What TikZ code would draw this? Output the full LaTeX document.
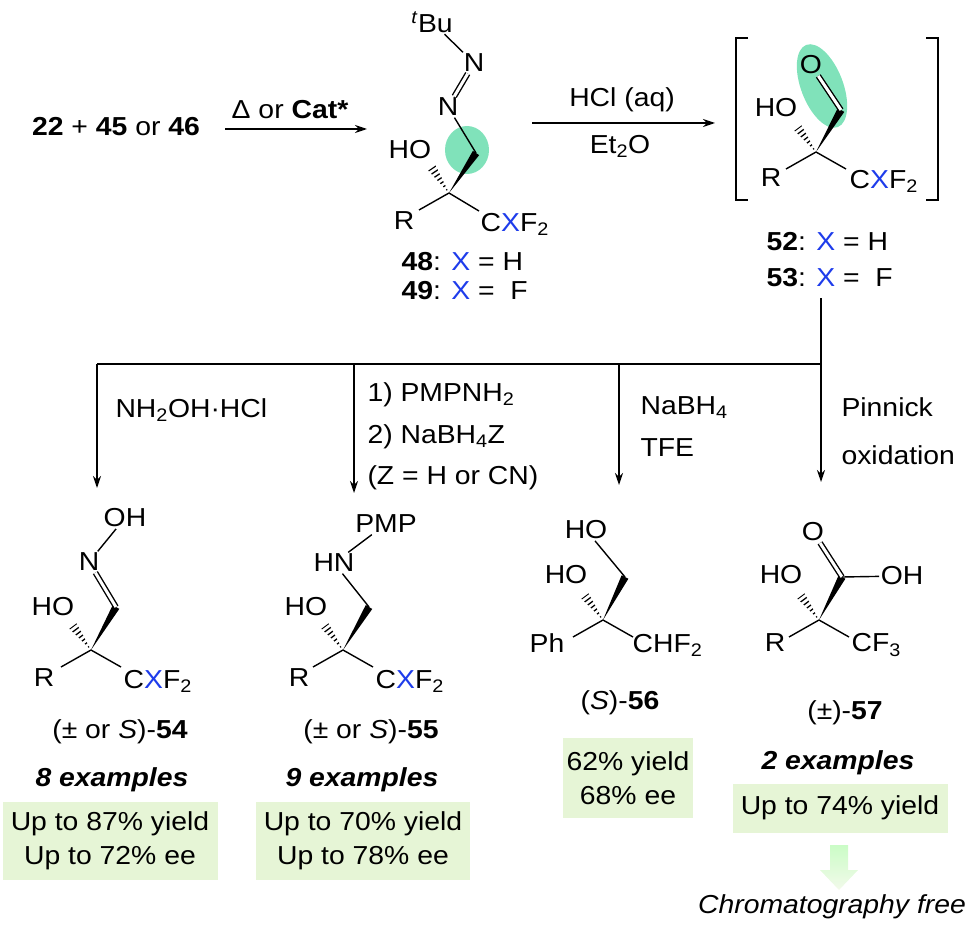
\documentclass[tikz,border=0pt]{standalone}
\usepackage{fontspec}
\setmainfont[FakeStretch=1.09]{Liberation Sans}
\usetikzlibrary{calc,arrows.meta}
\definecolor{xblue}{RGB}{30,60,235}
\definecolor{mint}{RGB}{128,226,186}
\definecolor{boxg}{RGB}{230,245,214}
\newcommand\hashb[2]{\begin{scope}\clip (#1) -- ($(#2)!4.5pt!90:(#1)$) -- ($(#2)!4.5pt!-90:(#1)$) -- cycle;
 \draw[line width=12pt,dash pattern=on 1.3pt off 3pt,dash phase=1pt] (#1) -- (#2);\end{scope}}
\newcommand\wedgeb[2]{\fill (#1) -- ($(#2)!3.8pt!90:(#1)$) -- ($(#2)!3.8pt!-90:(#1)$) -- cycle;}
\newcommand\X{\textcolor{xblue}{X}}
\newcommand\sbs[1]{\textsubscript{#1}}
\begin{document}
\begin{tikzpicture}[x=1pt,y=-1pt,font=\fontsize{26}{31}\selectfont,
  bd/.style={line width=1.4pt},
  ar/.style={line width=1.4pt,-{Stealth[length=12pt,width=8pt]}},
  lb/.style={inner sep=1.5pt},
  gbox/.style={fill=boxg,align=center,inner sep=4pt}]
\useasboundingbox (0,0) rectangle (972,928);
% top left
\node (start) at (116,127) {\textbf{22} + \textbf{45} or \textbf{46}};
\coordinate (a1s) at (225,129); \coordinate (a1e) at (367,129);
\draw[ar] (a1s) -- (a1e);
\node (cond1) at (290,110) {Δ or \textbf{Cat*}};
% molecule 48
\fill[mint] (467,150) ellipse (22 and 24);
\coordinate (C48) at (449,193);
\coordinate (T48) at (476,153);
\coordinate (H48) at (432,168);
\coordinate (R48e) at (419,210);
\coordinate (X48e) at (479,211);
\node[lb] (HO48) at (410,150) {HO};
\node[lb] (N1) at (448,107) {N};
\node[lb] (N2) at (474,63) {N};
\node[lb] (tBu) at (432,22) {\textsuperscript{\textit{t}}Bu};
\node[lb] (R48) at (404,221) {R};
\node[lb,anchor=west] (CX48) at (479,224) {C\X F\sbs{2}};
\hashb{C48}{H48}
\wedgeb{C48}{T48}
\draw[bd] (T48) -- (N1);
\draw[bd,double distance=3pt] (N1) -- (N2);
\draw[bd] (N2) -- (tBu);
\draw[bd] (C48) -- (R48e);
\draw[bd] (C48) -- (X48e);
\node[anchor=west] (l48) at (398,262) {\textbf{48}: \X{} = H};
\node[anchor=west] (l49) at (398,291) {\textbf{49}: \X{} = \ F};
% arrow 2
\coordinate (a2s) at (532,123); \coordinate (a2e) at (715,123);
\draw[ar] (a2s) -- (a2e);
\node (cond2a) at (622,100) {HCl (aq)};
\node (cond2b) at (620,146) {Et\sbs{2}O};
% molecule 52
\fill[mint,rotate around={21:(822,86)}] (822,86) ellipse (21 and 44);
\coordinate (C52) at (816,152);
\coordinate (T52) at (841,110);
\coordinate (H52) at (798,128);
\coordinate (R52e) at (786,169);
\coordinate (X52e) at (846,169);
\node[lb] (HO52) at (776,108) {HO};
\node[lb] (O52) at (811,65) {O};
\node[lb] (R52) at (771,178) {R};
\node[lb,anchor=west] (CX52) at (848,181) {C\X F\sbs{2}};
\hashb{C52}{H52}
\wedgeb{C52}{T52}
\draw[bd,double distance=3pt] (T52) -- (O52);
\draw[bd] (C52) -- (R52e);
\draw[bd] (C52) -- (X52e);
\draw[bd] (748,38) -- (736,38) -- (736,200) -- (748,200);
\draw[bd] (926,38) -- (938,38) -- (938,200) -- (926,200);
\node[anchor=west] (l52) at (763,242) {\textbf{52}: \X{} = H};
\node[anchor=west] (l53) at (763,278) {\textbf{53}: \X{} = \ F};
% branching
\coordinate (bt) at (821,298); \coordinate (bj) at (821,364);
\coordinate (b1) at (97,364); \coordinate (b2) at (354,364); \coordinate (b3) at (619,364);
\coordinate (e1) at (97,488); \coordinate (e2) at (354,493); \coordinate (e3) at (619,485); \coordinate (e4) at (821,482);
\draw[bd] (bt) -- (bj) -- (b1);
\draw[ar] (b1) -- (e1); \draw[ar] (b2) -- (e2); \draw[ar] (b3) -- (e3); \draw[ar] (bj) -- (e4);
\node[anchor=west] (c1) at (112,410) {NH\sbs{2}OH·HCl};
\node[anchor=west] (c2a) at (364,395) {1) PMPNH\sbs{2}};
\node[anchor=west] (c2b) at (364,437) {2) NaBH\sbs{4}Z};
\node[anchor=west] (c2c) at (364,478) {(Z = H or CN)};
\node[anchor=west] (c3a) at (637,408) {NaBH\sbs{4}};
\node[anchor=west] (c3b) at (637,448) {TFE};
\node[anchor=west] (c4a) at (838,407) {Pinnick};
\node[anchor=west] (c4b) at (838,455) {oxidation};
% 54
\coordinate (C54) at (91,650); \coordinate (T54) at (116,607); \coordinate (H54) at (73,626);
\coordinate (R54e) at (61,667); \coordinate (X54e) at (121,667);
\node[lb] (HO54) at (53,607) {HO};
\node[lb] (N54) at (89,562) {N};
\node[lb] (OH54) at (125,518) {OH};
\node[lb] (R54) at (44,678) {R};
\node[lb,anchor=west] (CX54) at (122,681) {C\X F\sbs{2}};
\hashb{C54}{H54}\wedgeb{C54}{T54}
\draw[bd,double distance=3pt] (T54) -- (N54);
\draw[bd] (N54) -- (OH54);
\draw[bd] (C54) -- (R54e); \draw[bd] (C54) -- (X54e);
\node (l54) at (120,732) {(± or \textit{S})-\textbf{54}};
\node (x54) at (112,780) {\textbf{\textit{8 examples}}};
\node[gbox,minimum width=215pt,minimum height=78pt] (y54) at (110,841) {Up to 87\% yield\\[3pt]Up to 72\% ee};
% 55
\coordinate (C55) at (343,650); \coordinate (T55) at (369,607); \coordinate (H55) at (325,626);
\coordinate (R55e) at (313,667); \coordinate (X55e) at (373,667);
\node[lb] (HO55) at (306,607) {HO};
\node[lb] (HN55) at (334,563) {HN};
\node[lb] (PMP55) at (386,524) {PMP};
\node[lb] (R55) at (299,678) {R};
\node[lb,anchor=west] (CX55) at (374,681) {C\X F\sbs{2}};
\hashb{C55}{H55}\wedgeb{C55}{T55}
\draw[bd] (T55) -- (HN55);
\draw[bd] (HN55) -- (PMP55);
\draw[bd] (C55) -- (R55e); \draw[bd] (C55) -- (X55e);
\node (l55) at (371,732) {(± or \textit{S})-\textbf{55}};
\node (x55) at (362,780) {\textbf{\textit{9 examples}}};
\node[gbox,minimum width=214pt,minimum height=78pt] (y55) at (363,841) {Up to 70\% yield\\[3pt]Up to 78\% ee};
% 56
\coordinate (C56) at (603,620); \coordinate (T56) at (625,577); \coordinate (H56) at (585,596);
\coordinate (R56e) at (573,637); \coordinate (X56e) at (633,637);
\node[lb] (HO56) at (566,575) {HO};
\node[lb] (HOt56) at (586,530) {HO};
\node[lb] (Ph56) at (547,643) {Ph};
\node[lb,anchor=west] (CX56) at (631,645) {CHF\sbs{2}};
\hashb{C56}{H56}\wedgeb{C56}{T56}
\draw[bd] (T56) -- (HOt56);
\draw[bd] (C56) -- (R56e); \draw[bd] (C56) -- (X56e);
\node (l56) at (620,703) {(\textit{S})-\textbf{56}};
\node[gbox,minimum width=128pt,minimum height=80pt] (y56) at (628,778) {62\% yield\\[3pt]68\% ee};
% 57
\coordinate (C57) at (819,620); \coordinate (T57) at (842,577); \coordinate (H57) at (801,596);
\coordinate (R57e) at (789,637); \coordinate (X57e) at (849,637);
\node[lb] (HO57) at (781,575) {HO};
\node[lb] (O57) at (813,532) {O};
\node[lb] (OH57) at (902,576) {OH};
\node[lb] (R57) at (775,643) {R};
\node[lb,anchor=west] (CF57) at (850,645) {CF\sbs{3}};
\hashb{C57}{H57}\wedgeb{C57}{T57}
\draw[bd,double distance=3pt] (T57) -- (O57);
\draw[bd] (T57) -- (OH57);
\draw[bd] (C57) -- (R57e); \draw[bd] (C57) -- (X57e);
\node (l57) at (845,713) {(±)-\textbf{57}};
\node (x57) at (838,763) {\textbf{\textit{2 examples}}};
\node[gbox,minimum width=215pt,minimum height=49pt] (y57) at (840,808) {Up to 74\% yield};
\shade[top color=boxg!60!green!45!white,bottom color=boxg!50!white] (830,845) -- (848,845) -- (848,870) -- (858,870) -- (839,890) -- (820,870) -- (830,870) -- cycle;
\node (chrom) at (832,907) {\textit{Chromatography free}};
\end{tikzpicture}
\end{document}
